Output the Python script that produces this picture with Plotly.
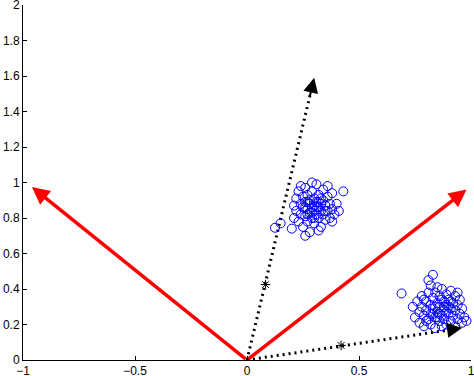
import plotly.graph_objects as go

# ---- data ----
cluster1_x = [0.125,0.15,0.20,0.21,0.21,0.22,0.22,0.23,0.23,0.24,0.24,0.25,0.25,0.25,0.26,0.26,0.26,0.27,0.27,0.27,
              0.28,0.28,0.28,0.28,0.29,0.29,0.29,0.30,0.30,0.30,0.30,0.31,0.31,0.31,0.32,0.32,0.32,0.33,0.33,0.33,
              0.34,0.34,0.34,0.35,0.35,0.36,0.36,0.37,0.37,0.38,0.38,0.39,0.40,0.41,0.43,0.26,0.32,0.29,0.36,0.24,
              0.27,0.31,0.33,0.29,0.35,0.27,0.30,0.26,0.32,0.38]
cluster1_y = [0.745,0.77,0.74,0.80,0.87,0.91,0.84,0.95,0.78,0.88,0.82,0.92,0.86,0.75,0.89,0.81,0.97,0.85,0.78,0.93,
              0.88,0.83,0.72,0.90,0.86,0.80,0.95,0.87,0.84,0.91,0.77,0.89,0.82,0.99,0.86,0.80,0.93,0.88,0.84,0.75,
              0.90,0.82,0.96,0.87,0.79,0.92,0.84,0.88,0.80,0.85,0.94,0.82,0.88,0.84,0.95,0.70,0.73,1.00,0.98,0.98,
              0.82,0.86,0.91,0.83,0.84,0.89,0.80,0.86,0.89,0.78]
cluster2_x = [0.69,0.81,0.83,0.85,0.74,0.75,0.76,0.77,0.77,0.78,0.78,0.79,0.79,0.80,0.80,0.81,0.81,0.82,0.82,0.82,
              0.83,0.83,0.84,0.84,0.84,0.85,0.85,0.86,0.86,0.86,0.87,0.87,0.87,0.88,0.88,0.88,0.89,0.89,0.89,0.90,
              0.90,0.91,0.91,0.91,0.92,0.92,0.93,0.93,0.93,0.94,0.94,0.95,0.95,0.96,0.96,0.97,0.98,0.84,0.86,0.88,
              0.90,0.87,0.85,0.89,0.91,0.83,0.80,0.94,0.82,0.79]
cluster2_y = [0.375,0.45,0.48,0.41,0.30,0.24,0.33,0.27,0.21,0.36,0.30,0.25,0.19,0.33,0.28,0.38,0.23,0.31,0.26,0.20,
              0.35,0.29,0.24,0.38,0.18,0.32,0.27,0.22,0.36,0.30,0.25,0.40,0.19,0.33,0.28,0.23,0.37,0.31,0.20,0.26,
              0.34,0.29,0.22,0.39,0.32,0.25,0.36,0.28,0.19,0.31,0.23,0.34,0.26,0.29,0.21,0.24,0.22,0.30,0.26,0.30,
              0.30,0.34,0.24,0.27,0.33,0.26,0.22,0.38,0.42,0.34]

red_vec_x = [-0.96, 0.98]
red_vec_y = [0.975, 0.96]
black_vec_x = [0.30, 0.96]
black_vec_y = [1.59, 0.18]
star_x = [0.083, 0.42]
star_y = [0.425, 0.082]

fig = go.Figure()

# black dotted shafts
for vx, vy in zip(black_vec_x, black_vec_y):
    fig.add_trace(go.Scatter(x=[0, vx * 0.95], y=[0, vy * 0.95], mode="lines",
                             line=dict(color="black", width=3, dash="2px,4px"),
                             showlegend=False, hoverinfo="skip", cliponaxis=False))

# clusters
for cx, cy in ((cluster1_x, cluster1_y), (cluster2_x, cluster2_y)):
    fig.add_trace(go.Scatter(x=cx, y=cy, mode="markers",
                             marker=dict(symbol="circle-open", size=9, color="#0000ff",
                                         line=dict(width=1, color="#0000ff")),
                             showlegend=False, cliponaxis=False))

# asterisks
fig.add_trace(go.Scatter(x=star_x, y=star_y, mode="markers",
                         marker=dict(symbol="asterisk-open", size=8, color="black",
                                     line=dict(width=1, color="black")),
                         showlegend=False))

annotations = []
# red arrows
for vx, vy in zip(red_vec_x, red_vec_y):
    annotations.append(dict(x=vx, y=vy, ax=0, ay=0, xref="x", yref="y", axref="x", ayref="y",
                            showarrow=True, arrowhead=2, arrowsize=1.0, arrowwidth=3.5,
                            arrowcolor="#ff0000", text="", standoff=0))
# black arrowheads
for vx, vy in zip(black_vec_x, black_vec_y):
    annotations.append(dict(x=vx, y=vy, ax=vx * 0.93, ay=vy * 0.93, xref="x", yref="y",
                            axref="x", ayref="y", showarrow=True, arrowhead=2, arrowsize=1.5,
                            arrowwidth=2, arrowcolor="black", text="", standoff=0))

fig.update_layout(
    width=474, height=376,
    margin=dict(l=23, r=3, t=5, b=16, autoexpand=False),
    paper_bgcolor="white", plot_bgcolor="white",
    font=dict(family="Liberation Sans, Arial, sans-serif", size=12, color="black"),
    annotations=annotations,
    showlegend=False,
)
fig.update_xaxes(range=[-1, 1], tickvals=[-1, -0.5, 0, 0.5, 1],
                 ticktext=["\u22121", "\u22120.5", "0", "0.5", "1"],
                 ticks="inside", ticklen=4, tickcolor="black", showline=True, automargin=False,
                 ticklabeloverflow="allow",
                 linecolor="black", linewidth=1, showgrid=False, zeroline=False)
fig.update_yaxes(range=[0, 2], tickvals=[0, 0.2, 0.4, 0.6, 0.8, 1, 1.2, 1.4, 1.6, 1.8, 2],
                 ticktext=["0", "0.2", "0.4", "0.6", "0.8", "1", "1.2", "1.4", "1.6", "1.8", "2"],
                 ticks="inside", ticklen=4, tickcolor="black", showline=True, automargin=False,
                 ticklabeloverflow="allow",
                 linecolor="black", linewidth=1, showgrid=False, zeroline=False)

fig.write_html("out.html", config={"displayModeBar": False},
               post_script="document.body.style.margin='0';document.body.style.overflow='hidden';")
